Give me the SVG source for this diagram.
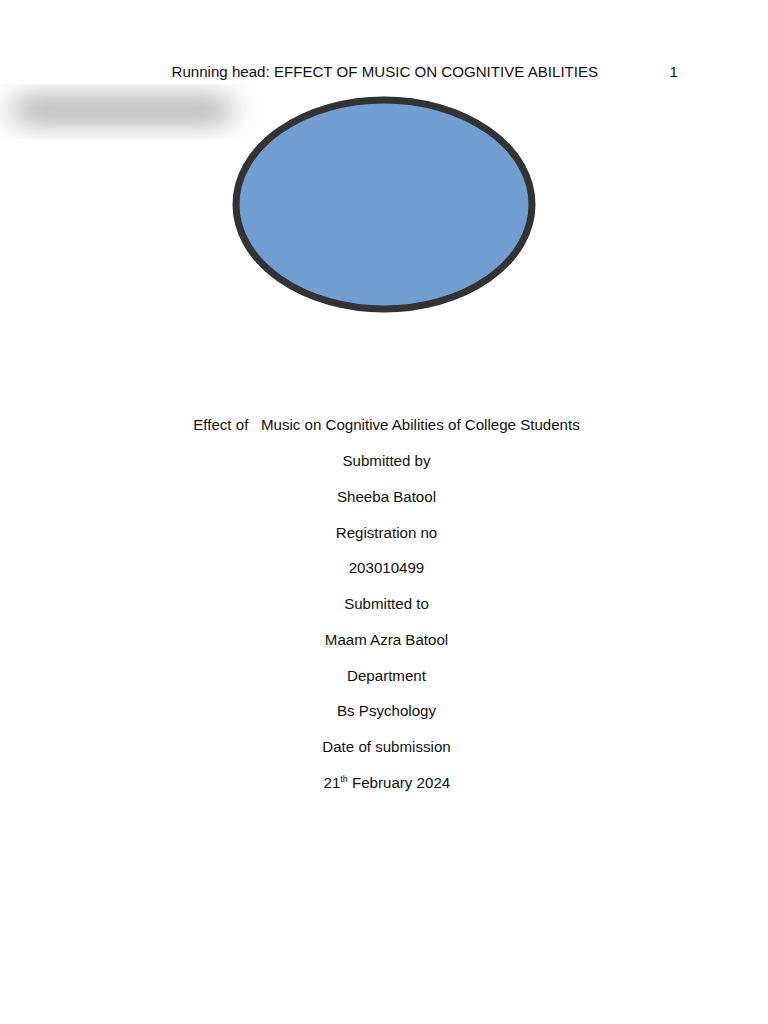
<svg xmlns="http://www.w3.org/2000/svg" width="768" height="1024" viewBox="0 0 768 1024">
<style>
text{font-family:"Liberation Sans",Arial,sans-serif;font-size:15.1px;fill:#111}
.c{text-anchor:middle}
</style>
<defs>
<filter id="b" filterUnits="userSpaceOnUse" x="-100" y="0" width="460" height="220" color-interpolation-filters="sRGB"><feGaussianBlur stdDeviation="15"/></filter>
<clipPath id="k"><rect x="0" y="84" width="260" height="55"/></clipPath>
</defs>
<rect width="768" height="1024" fill="#fff"/>
<text x="171.500" y="76.500">Running head: EFFECT OF MUSIC ON COGNITIVE ABILITIES</text>
<text x="669.500" y="76.500">1</text>
<g clip-path="url(#k)"><rect x="14" y="102" width="216" height="16" fill="#777" filter="url(#b)"/></g>
<g id="ellipse"><ellipse cx="384" cy="204.500" rx="148" ry="104.500" fill="#719ed0" stroke="#333" stroke-width="7"/></g>
<text class="c" x="386.500" y="430">Effect of&#160;&#160; Music on Cognitive Abilities of College Students</text>
<text class="c" x="386.500" y="466">Submitted by</text>
<text class="c" x="386.500" y="501.500">Sheeba Batool</text>
<text class="c" x="386.500" y="537.500">Registration no</text>
<text class="c" x="386.500" y="573">203010499</text>
<text class="c" x="386.500" y="609">Submitted to</text>
<text class="c" x="386.500" y="644.500">Maam Azra Batool</text>
<text class="c" x="386.500" y="680.500">Department</text>
<text class="c" x="386.500" y="716">Bs Psychology</text>
<text class="c" x="386.500" y="751.500">Date of submission</text>
<text x="323.500" y="787.500">21<tspan font-size="9" dy="-6">th</tspan><tspan dy="6"> February 2024</tspan></text>
</svg>
